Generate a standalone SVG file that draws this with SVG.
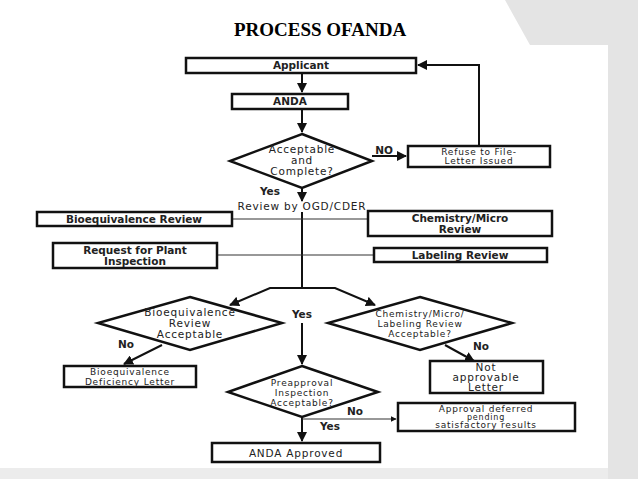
<svg xmlns="http://www.w3.org/2000/svg" width="638" height="479" viewBox="0 0 638 479">
<style>
.b{fill:#fff;stroke:#111;stroke-width:2.5}
.t{font-family:"DejaVu Sans",sans-serif;font-size:10.5px;font-weight:bold;fill:#222;text-anchor:middle}
.n{font-weight:normal;letter-spacing:0.8px}
.s{font-size:9px}
.x{font-size:8px}
.c{fill:none;stroke:#111;stroke-width:2}
.d{fill:none;stroke:#333;stroke-width:1.2}
</style>
<defs><marker id="a" viewBox="0 0 10 10" refX="9" refY="5" markerWidth="5" markerHeight="5" orient="auto"><path d="M0,0L10,5L0,10z" fill="#111"/></marker></defs>
<rect width="638" height="479" fill="#fff"/>
<path d="M505,0H638V479H590L600,468H608V45H530z" fill="#e4e4e4"/>
<rect x="0" y="468" width="608" height="11" fill="#ececec"/>
<text x="320" y="36" font-family="Liberation Serif,serif" font-size="19" font-weight="bold" text-anchor="middle">PROCESS OFANDA</text>
<g id="connectors">
<path class="c" d="M302,73V92" marker-end="url(#a)"/>
<path class="c" d="M302,109V132" marker-end="url(#a)"/>
<path class="c" d="M372,156H406" marker-end="url(#a)"/>
<path class="c" d="M479,146V65H418" marker-end="url(#a)"/>
<path class="c" d="M302,188V201" marker-end="url(#a)"/>
<path class="c" d="M302,212V288"/>
<path class="d" d="M232,219H368M217,255H374"/>
<path class="c" d="M302,288H270L230,305" marker-end="url(#a)"/>
<path class="c" d="M302,288H335L375,305" marker-end="url(#a)"/>
<path class="c" d="M302,323V364" marker-end="url(#a)"/>
<path class="c" d="M162,345L124,364" marker-end="url(#a)"/>
<path class="c" d="M445,345L474,361" marker-end="url(#a)"/>
<path class="c" d="M302,417V441" marker-end="url(#a)"/>
<path class="d" d="M302,419H396" marker-end="url(#a)"/>
</g>
<g id="applicant"><rect class="b" x="186" y="58" width="230" height="15"/><text class="t" x="301" y="69">Applicant</text></g>
<g id="anda"><rect class="b" x="232" y="94" width="116" height="15"/><text class="t" x="290" y="105">ANDA</text></g>
<g id="acceptable"><path class="b" d="M302,134L372,161L302,188L230,161z"/><text class="t n" x="302" y="153">Acceptable</text><text class="t n" x="302" y="164">and</text><text class="t n" x="302" y="175">Complete?</text></g>
<text class="t" x="384" y="154">NO</text>
<g id="refuse"><rect class="b" x="408" y="146" width="142" height="21"/><text class="t n s" x="479" y="155">Refuse to File-</text><text class="t n s" x="479" y="164">Letter Issued</text></g>
<text class="t" x="270" y="195">Yes</text>
<text class="t n" x="302" y="210">Review by OGD/CDER</text>
<g id="bioreview"><rect class="b" x="37" y="212" width="195" height="14"/><text class="t" x="134" y="223">Bioequivalence Review</text></g>
<g id="chemreview"><rect class="b" x="368" y="211" width="184" height="25"/><text class="t" x="460" y="222">Chemistry/Micro</text><text class="t" x="460" y="233">Review</text></g>
<g id="plant"><rect class="b" x="53" y="243" width="164" height="25"/><text class="t" x="135" y="254">Request for Plant</text><text class="t" x="135" y="265">Inspection</text></g>
<g id="labeling"><rect class="b" x="374" y="248" width="173" height="14"/><text class="t" x="460" y="259">Labeling Review</text></g>
<g id="bioacc"><path class="b" d="M190,297L282,323L190,350L98,323z"/><text class="t n" x="190" y="316">Bioequivalence</text><text class="t n" x="190" y="327">Review</text><text class="t n" x="190" y="338">Acceptable</text></g>
<text class="t" x="302" y="318">Yes</text>
<g id="chemacc"><path class="b" d="M420,297L512,323L420,350L328,323z"/><text class="t n s" x="420" y="317">Chemistry/Micro/</text><text class="t n s" x="420" y="327">Labeling Review</text><text class="t n s" x="420" y="337">Acceptable?</text></g>
<text class="t" x="126" y="348">No</text>
<text class="t" x="481" y="350">No</text>
<g id="biodef"><rect class="b" x="64" y="366" width="132" height="21"/><text class="t n s" x="130" y="375">Bioequivalence</text><text class="t n s" x="130" y="385">Deficiency Letter</text></g>
<g id="notapp"><rect class="b" x="430" y="361" width="113" height="32"/><text class="t n" x="486" y="371">Not</text><text class="t n" x="486" y="381">approvable</text><text class="t n" x="486" y="391">Letter</text></g>
<g id="preapp"><path class="b" d="M302,366L378,392L302,417L228,392z"/><text class="t n s" x="302" y="386">Preapproval</text><text class="t n s" x="302" y="396">Inspection</text><text class="t n s" x="302" y="406">Acceptable?</text></g>
<text class="t" x="355" y="415">No</text>
<text class="t" x="330" y="430">Yes</text>
<g id="deferred"><rect class="b" x="398" y="403" width="177" height="28"/><text class="t n s" x="486" y="412">Approval deferred</text><text class="t n x" x="486" y="420">pending</text><text class="t n s" x="486" y="428">satisfactory results</text></g>
<g id="approved"><rect class="b" x="212" y="443" width="168" height="19" stroke="#555"/><text class="t n" x="296" y="457" font-size="13" fill="#555">ANDA Approved</text></g>
</svg>
